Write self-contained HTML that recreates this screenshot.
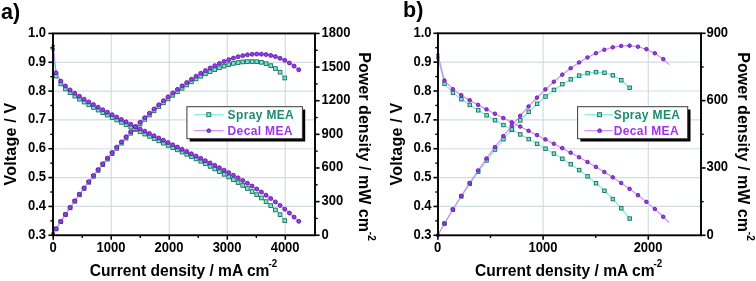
<!DOCTYPE html>
<html><head><meta charset="utf-8"><style>
html,body{margin:0;padding:0;background:#fff;width:756px;height:281px;overflow:hidden}
svg{display:block;will-change:transform}
text{font-family:"Liberation Sans",sans-serif;font-weight:bold}
.tk{font-size:14px;fill:#000}
.lg{font-size:12px;letter-spacing:0.35px}
.ax{font-size:16px;fill:#000}
.pl{font-size:21.5px;fill:#000}
.sup{font-size:10px;fill:#000}
</style></head><body>
<svg width="756" height="281" viewBox="0 0 756 281">
<rect width="756" height="281" fill="#fff"/>
<line x1="53.00" y1="206.42" x2="315.00" y2="206.42" stroke="#d2dde3" stroke-width="1.2"/>
<line x1="53.00" y1="177.59" x2="315.00" y2="177.59" stroke="#d2dde3" stroke-width="1.2"/>
<line x1="53.00" y1="148.76" x2="315.00" y2="148.76" stroke="#d2dde3" stroke-width="1.2"/>
<line x1="53.00" y1="119.94" x2="315.00" y2="119.94" stroke="#d2dde3" stroke-width="1.2"/>
<line x1="53.00" y1="91.11" x2="315.00" y2="91.11" stroke="#d2dde3" stroke-width="1.2"/>
<line x1="53.00" y1="62.28" x2="315.00" y2="62.28" stroke="#d2dde3" stroke-width="1.2"/>
<line x1="111.23" y1="33.45" x2="111.23" y2="235.25" stroke="#d2dde3" stroke-width="1.2"/>
<line x1="169.26" y1="33.45" x2="169.26" y2="235.25" stroke="#d2dde3" stroke-width="1.2"/>
<line x1="227.29" y1="33.45" x2="227.29" y2="235.25" stroke="#d2dde3" stroke-width="1.2"/>
<line x1="285.32" y1="33.45" x2="285.32" y2="235.25" stroke="#d2dde3" stroke-width="1.2"/>
<polyline points="53.20,49.31 56.12,76.02 60.79,83.95 65.46,88.93 70.12,92.78 74.79,96.13 79.45,99.21 84.12,102.07 88.78,104.80 93.45,107.48 98.12,110.07 102.78,112.59 107.45,115.08 112.11,117.54 116.78,119.98 121.44,122.38 126.11,124.76 130.77,127.12 135.44,129.45 140.11,131.78 144.77,134.09 149.44,136.38 154.10,138.65 158.77,140.91 163.43,143.17 168.10,145.43 172.77,147.67 177.43,149.89 182.10,152.09 186.76,154.30 191.43,156.56 196.09,158.88 200.76,161.29 205.42,163.80 210.09,166.38 214.76,169.00 219.42,171.65 224.09,174.29 228.75,176.94 233.42,179.66 238.08,182.52 242.75,185.47 247.41,188.48 252.08,191.56 256.75,194.67 261.41,197.97 266.08,201.62 270.74,205.57 275.41,209.96 280.07,214.69 284.74,220.63" fill="none" stroke="#74eedb" stroke-width="1.1"/>
<polyline points="53.20,233.65 56.12,228.87 60.79,221.65 65.46,214.68 70.12,207.89 74.79,201.27 79.45,194.81 84.12,188.50 88.78,182.33 93.45,176.32 98.12,170.44 102.78,164.71 107.45,159.12 112.11,153.67 116.78,148.37 121.44,143.20 126.11,138.17 130.77,133.28 135.44,128.52 140.11,123.90 144.77,119.41 149.44,115.05 154.10,110.83 158.77,106.74 163.43,102.78 168.10,98.97 172.77,95.29 177.43,91.71 182.10,88.27 186.76,84.97 191.43,81.85 196.09,78.93 200.76,76.25 205.42,73.81 210.09,71.60 214.76,69.60 219.42,67.79 224.09,66.13 228.75,64.65 233.42,63.42 238.08,62.53 242.75,61.93 247.41,61.59 252.08,61.53 256.75,61.70 261.41,62.33 266.08,63.65 270.74,65.64 275.41,68.52 280.07,72.18 284.74,78.01" fill="none" stroke="#74eedb" stroke-width="1.1"/>
<rect x="52.00" y="48.11" width="2.4" height="2.4" fill="#66f0d0" stroke="#26685c" stroke-width="0.9"/>
<rect x="54.27" y="74.17" width="3.7" height="3.7" fill="#66f0d0" stroke="#26685c" stroke-width="0.9"/>
<rect x="58.94" y="82.10" width="3.7" height="3.7" fill="#66f0d0" stroke="#26685c" stroke-width="0.9"/>
<rect x="63.61" y="87.08" width="3.7" height="3.7" fill="#66f0d0" stroke="#26685c" stroke-width="0.9"/>
<rect x="68.27" y="90.93" width="3.7" height="3.7" fill="#66f0d0" stroke="#26685c" stroke-width="0.9"/>
<rect x="72.94" y="94.28" width="3.7" height="3.7" fill="#66f0d0" stroke="#26685c" stroke-width="0.9"/>
<rect x="77.60" y="97.36" width="3.7" height="3.7" fill="#66f0d0" stroke="#26685c" stroke-width="0.9"/>
<rect x="82.27" y="100.22" width="3.7" height="3.7" fill="#66f0d0" stroke="#26685c" stroke-width="0.9"/>
<rect x="86.93" y="102.95" width="3.7" height="3.7" fill="#66f0d0" stroke="#26685c" stroke-width="0.9"/>
<rect x="91.60" y="105.63" width="3.7" height="3.7" fill="#66f0d0" stroke="#26685c" stroke-width="0.9"/>
<rect x="96.27" y="108.22" width="3.7" height="3.7" fill="#66f0d0" stroke="#26685c" stroke-width="0.9"/>
<rect x="100.93" y="110.74" width="3.7" height="3.7" fill="#66f0d0" stroke="#26685c" stroke-width="0.9"/>
<rect x="105.60" y="113.23" width="3.7" height="3.7" fill="#66f0d0" stroke="#26685c" stroke-width="0.9"/>
<rect x="110.26" y="115.69" width="3.7" height="3.7" fill="#66f0d0" stroke="#26685c" stroke-width="0.9"/>
<rect x="114.93" y="118.13" width="3.7" height="3.7" fill="#66f0d0" stroke="#26685c" stroke-width="0.9"/>
<rect x="119.59" y="120.53" width="3.7" height="3.7" fill="#66f0d0" stroke="#26685c" stroke-width="0.9"/>
<rect x="124.26" y="122.91" width="3.7" height="3.7" fill="#66f0d0" stroke="#26685c" stroke-width="0.9"/>
<rect x="128.92" y="125.27" width="3.7" height="3.7" fill="#66f0d0" stroke="#26685c" stroke-width="0.9"/>
<rect x="133.59" y="127.60" width="3.7" height="3.7" fill="#66f0d0" stroke="#26685c" stroke-width="0.9"/>
<rect x="138.26" y="129.93" width="3.7" height="3.7" fill="#66f0d0" stroke="#26685c" stroke-width="0.9"/>
<rect x="142.92" y="132.24" width="3.7" height="3.7" fill="#66f0d0" stroke="#26685c" stroke-width="0.9"/>
<rect x="147.59" y="134.53" width="3.7" height="3.7" fill="#66f0d0" stroke="#26685c" stroke-width="0.9"/>
<rect x="152.25" y="136.80" width="3.7" height="3.7" fill="#66f0d0" stroke="#26685c" stroke-width="0.9"/>
<rect x="156.92" y="139.06" width="3.7" height="3.7" fill="#66f0d0" stroke="#26685c" stroke-width="0.9"/>
<rect x="161.58" y="141.32" width="3.7" height="3.7" fill="#66f0d0" stroke="#26685c" stroke-width="0.9"/>
<rect x="166.25" y="143.58" width="3.7" height="3.7" fill="#66f0d0" stroke="#26685c" stroke-width="0.9"/>
<rect x="170.92" y="145.82" width="3.7" height="3.7" fill="#66f0d0" stroke="#26685c" stroke-width="0.9"/>
<rect x="175.58" y="148.04" width="3.7" height="3.7" fill="#66f0d0" stroke="#26685c" stroke-width="0.9"/>
<rect x="180.25" y="150.24" width="3.7" height="3.7" fill="#66f0d0" stroke="#26685c" stroke-width="0.9"/>
<rect x="184.91" y="152.45" width="3.7" height="3.7" fill="#66f0d0" stroke="#26685c" stroke-width="0.9"/>
<rect x="189.58" y="154.71" width="3.7" height="3.7" fill="#66f0d0" stroke="#26685c" stroke-width="0.9"/>
<rect x="194.24" y="157.03" width="3.7" height="3.7" fill="#66f0d0" stroke="#26685c" stroke-width="0.9"/>
<rect x="198.91" y="159.44" width="3.7" height="3.7" fill="#66f0d0" stroke="#26685c" stroke-width="0.9"/>
<rect x="203.57" y="161.95" width="3.7" height="3.7" fill="#66f0d0" stroke="#26685c" stroke-width="0.9"/>
<rect x="208.24" y="164.53" width="3.7" height="3.7" fill="#66f0d0" stroke="#26685c" stroke-width="0.9"/>
<rect x="212.91" y="167.15" width="3.7" height="3.7" fill="#66f0d0" stroke="#26685c" stroke-width="0.9"/>
<rect x="217.57" y="169.80" width="3.7" height="3.7" fill="#66f0d0" stroke="#26685c" stroke-width="0.9"/>
<rect x="222.24" y="172.44" width="3.7" height="3.7" fill="#66f0d0" stroke="#26685c" stroke-width="0.9"/>
<rect x="226.90" y="175.09" width="3.7" height="3.7" fill="#66f0d0" stroke="#26685c" stroke-width="0.9"/>
<rect x="231.57" y="177.81" width="3.7" height="3.7" fill="#66f0d0" stroke="#26685c" stroke-width="0.9"/>
<rect x="236.23" y="180.67" width="3.7" height="3.7" fill="#66f0d0" stroke="#26685c" stroke-width="0.9"/>
<rect x="240.90" y="183.62" width="3.7" height="3.7" fill="#66f0d0" stroke="#26685c" stroke-width="0.9"/>
<rect x="245.56" y="186.63" width="3.7" height="3.7" fill="#66f0d0" stroke="#26685c" stroke-width="0.9"/>
<rect x="250.23" y="189.71" width="3.7" height="3.7" fill="#66f0d0" stroke="#26685c" stroke-width="0.9"/>
<rect x="254.90" y="192.82" width="3.7" height="3.7" fill="#66f0d0" stroke="#26685c" stroke-width="0.9"/>
<rect x="259.56" y="196.12" width="3.7" height="3.7" fill="#66f0d0" stroke="#26685c" stroke-width="0.9"/>
<rect x="264.23" y="199.77" width="3.7" height="3.7" fill="#66f0d0" stroke="#26685c" stroke-width="0.9"/>
<rect x="268.89" y="203.72" width="3.7" height="3.7" fill="#66f0d0" stroke="#26685c" stroke-width="0.9"/>
<rect x="273.56" y="208.11" width="3.7" height="3.7" fill="#66f0d0" stroke="#26685c" stroke-width="0.9"/>
<rect x="278.22" y="212.84" width="3.7" height="3.7" fill="#66f0d0" stroke="#26685c" stroke-width="0.9"/>
<rect x="282.89" y="218.78" width="3.7" height="3.7" fill="#66f0d0" stroke="#26685c" stroke-width="0.9"/>
<rect x="52.00" y="232.45" width="2.4" height="2.4" fill="#66f0d0" stroke="#26685c" stroke-width="0.9"/>
<rect x="54.27" y="227.02" width="3.7" height="3.7" fill="#66f0d0" stroke="#26685c" stroke-width="0.9"/>
<rect x="58.94" y="219.80" width="3.7" height="3.7" fill="#66f0d0" stroke="#26685c" stroke-width="0.9"/>
<rect x="63.61" y="212.83" width="3.7" height="3.7" fill="#66f0d0" stroke="#26685c" stroke-width="0.9"/>
<rect x="68.27" y="206.04" width="3.7" height="3.7" fill="#66f0d0" stroke="#26685c" stroke-width="0.9"/>
<rect x="72.94" y="199.42" width="3.7" height="3.7" fill="#66f0d0" stroke="#26685c" stroke-width="0.9"/>
<rect x="77.60" y="192.96" width="3.7" height="3.7" fill="#66f0d0" stroke="#26685c" stroke-width="0.9"/>
<rect x="82.27" y="186.65" width="3.7" height="3.7" fill="#66f0d0" stroke="#26685c" stroke-width="0.9"/>
<rect x="86.93" y="180.48" width="3.7" height="3.7" fill="#66f0d0" stroke="#26685c" stroke-width="0.9"/>
<rect x="91.60" y="174.47" width="3.7" height="3.7" fill="#66f0d0" stroke="#26685c" stroke-width="0.9"/>
<rect x="96.27" y="168.59" width="3.7" height="3.7" fill="#66f0d0" stroke="#26685c" stroke-width="0.9"/>
<rect x="100.93" y="162.86" width="3.7" height="3.7" fill="#66f0d0" stroke="#26685c" stroke-width="0.9"/>
<rect x="105.60" y="157.27" width="3.7" height="3.7" fill="#66f0d0" stroke="#26685c" stroke-width="0.9"/>
<rect x="110.26" y="151.82" width="3.7" height="3.7" fill="#66f0d0" stroke="#26685c" stroke-width="0.9"/>
<rect x="114.93" y="146.52" width="3.7" height="3.7" fill="#66f0d0" stroke="#26685c" stroke-width="0.9"/>
<rect x="119.59" y="141.35" width="3.7" height="3.7" fill="#66f0d0" stroke="#26685c" stroke-width="0.9"/>
<rect x="124.26" y="136.32" width="3.7" height="3.7" fill="#66f0d0" stroke="#26685c" stroke-width="0.9"/>
<rect x="128.92" y="131.43" width="3.7" height="3.7" fill="#66f0d0" stroke="#26685c" stroke-width="0.9"/>
<rect x="133.59" y="126.67" width="3.7" height="3.7" fill="#66f0d0" stroke="#26685c" stroke-width="0.9"/>
<rect x="138.26" y="122.05" width="3.7" height="3.7" fill="#66f0d0" stroke="#26685c" stroke-width="0.9"/>
<rect x="142.92" y="117.56" width="3.7" height="3.7" fill="#66f0d0" stroke="#26685c" stroke-width="0.9"/>
<rect x="147.59" y="113.20" width="3.7" height="3.7" fill="#66f0d0" stroke="#26685c" stroke-width="0.9"/>
<rect x="152.25" y="108.98" width="3.7" height="3.7" fill="#66f0d0" stroke="#26685c" stroke-width="0.9"/>
<rect x="156.92" y="104.89" width="3.7" height="3.7" fill="#66f0d0" stroke="#26685c" stroke-width="0.9"/>
<rect x="161.58" y="100.93" width="3.7" height="3.7" fill="#66f0d0" stroke="#26685c" stroke-width="0.9"/>
<rect x="166.25" y="97.12" width="3.7" height="3.7" fill="#66f0d0" stroke="#26685c" stroke-width="0.9"/>
<rect x="170.92" y="93.44" width="3.7" height="3.7" fill="#66f0d0" stroke="#26685c" stroke-width="0.9"/>
<rect x="175.58" y="89.86" width="3.7" height="3.7" fill="#66f0d0" stroke="#26685c" stroke-width="0.9"/>
<rect x="180.25" y="86.42" width="3.7" height="3.7" fill="#66f0d0" stroke="#26685c" stroke-width="0.9"/>
<rect x="184.91" y="83.12" width="3.7" height="3.7" fill="#66f0d0" stroke="#26685c" stroke-width="0.9"/>
<rect x="189.58" y="80.00" width="3.7" height="3.7" fill="#66f0d0" stroke="#26685c" stroke-width="0.9"/>
<rect x="194.24" y="77.08" width="3.7" height="3.7" fill="#66f0d0" stroke="#26685c" stroke-width="0.9"/>
<rect x="198.91" y="74.40" width="3.7" height="3.7" fill="#66f0d0" stroke="#26685c" stroke-width="0.9"/>
<rect x="203.57" y="71.96" width="3.7" height="3.7" fill="#66f0d0" stroke="#26685c" stroke-width="0.9"/>
<rect x="208.24" y="69.75" width="3.7" height="3.7" fill="#66f0d0" stroke="#26685c" stroke-width="0.9"/>
<rect x="212.91" y="67.75" width="3.7" height="3.7" fill="#66f0d0" stroke="#26685c" stroke-width="0.9"/>
<rect x="217.57" y="65.94" width="3.7" height="3.7" fill="#66f0d0" stroke="#26685c" stroke-width="0.9"/>
<rect x="222.24" y="64.28" width="3.7" height="3.7" fill="#66f0d0" stroke="#26685c" stroke-width="0.9"/>
<rect x="226.90" y="62.80" width="3.7" height="3.7" fill="#66f0d0" stroke="#26685c" stroke-width="0.9"/>
<rect x="231.57" y="61.57" width="3.7" height="3.7" fill="#66f0d0" stroke="#26685c" stroke-width="0.9"/>
<rect x="236.23" y="60.68" width="3.7" height="3.7" fill="#66f0d0" stroke="#26685c" stroke-width="0.9"/>
<rect x="240.90" y="60.08" width="3.7" height="3.7" fill="#66f0d0" stroke="#26685c" stroke-width="0.9"/>
<rect x="245.56" y="59.74" width="3.7" height="3.7" fill="#66f0d0" stroke="#26685c" stroke-width="0.9"/>
<rect x="250.23" y="59.68" width="3.7" height="3.7" fill="#66f0d0" stroke="#26685c" stroke-width="0.9"/>
<rect x="254.90" y="59.85" width="3.7" height="3.7" fill="#66f0d0" stroke="#26685c" stroke-width="0.9"/>
<rect x="259.56" y="60.48" width="3.7" height="3.7" fill="#66f0d0" stroke="#26685c" stroke-width="0.9"/>
<rect x="264.23" y="61.80" width="3.7" height="3.7" fill="#66f0d0" stroke="#26685c" stroke-width="0.9"/>
<rect x="268.89" y="63.79" width="3.7" height="3.7" fill="#66f0d0" stroke="#26685c" stroke-width="0.9"/>
<rect x="273.56" y="66.67" width="3.7" height="3.7" fill="#66f0d0" stroke="#26685c" stroke-width="0.9"/>
<rect x="278.22" y="70.33" width="3.7" height="3.7" fill="#66f0d0" stroke="#26685c" stroke-width="0.9"/>
<rect x="282.89" y="76.16" width="3.7" height="3.7" fill="#66f0d0" stroke="#26685c" stroke-width="0.9"/>
<polyline points="53.20,45.85 56.12,72.80 60.79,81.11 65.46,86.04 70.12,89.90 74.79,93.25 79.45,96.31 84.12,99.18 88.78,101.92 93.45,104.58 98.12,107.16 102.78,109.70 107.45,112.20 112.11,114.66 116.78,117.09 121.44,119.49 126.11,121.87 130.77,124.23 135.44,126.57 140.11,128.90 144.77,131.20 149.44,133.50 154.10,135.77 158.77,138.04 163.43,140.30 168.10,142.55 172.77,144.79 177.43,147.03 182.10,149.28 186.76,151.52 191.43,153.78 196.09,156.05 200.76,158.33 205.42,160.63 210.09,162.96 214.76,165.32 219.42,167.72 224.09,170.16 228.75,172.64 233.42,175.19 238.08,177.79 242.75,180.47 247.41,183.23 252.08,186.07 256.75,189.01 261.41,192.05 266.08,195.21 270.74,198.49 275.41,201.90 280.07,205.46 284.74,209.17 289.41,213.05 294.07,217.11 298.74,221.36" fill="none" stroke="#d284ef" stroke-width="1.1"/>
<polyline points="53.20,233.65 56.12,228.81 60.79,221.51 65.46,214.45 70.12,207.57 74.79,200.86 79.45,194.30 84.12,187.90 88.78,181.65 93.45,175.54 98.12,169.58 102.78,163.76 107.45,158.08 112.11,152.54 116.78,147.15 121.44,141.89 126.11,136.77 130.77,131.79 135.44,126.94 140.11,122.23 144.77,117.65 149.44,113.21 154.10,108.90 158.77,104.72 163.43,100.68 168.10,96.77 172.77,92.99 177.43,89.36 182.10,85.86 186.76,82.51 191.43,79.30 196.09,76.24 200.76,73.34 205.42,70.61 210.09,68.04 214.76,65.65 219.42,63.44 224.09,61.44 228.75,59.64 233.42,58.06 238.08,56.72 242.75,55.63 247.41,54.81 252.08,54.27 256.75,54.04 261.41,54.13 266.08,54.57 270.74,55.39 275.41,56.61 280.07,58.26 284.74,60.37 289.41,62.97 294.07,66.10 298.74,69.79" fill="none" stroke="#d284ef" stroke-width="1.1"/>
<circle cx="53.20" cy="45.85" r="1.3" fill="#9a3af4" stroke="#521590" stroke-width="0.8"/>
<circle cx="56.12" cy="72.80" r="2.0" fill="#9a3af4" stroke="#521590" stroke-width="0.8"/>
<circle cx="60.79" cy="81.11" r="2.0" fill="#9a3af4" stroke="#521590" stroke-width="0.8"/>
<circle cx="65.46" cy="86.04" r="2.0" fill="#9a3af4" stroke="#521590" stroke-width="0.8"/>
<circle cx="70.12" cy="89.90" r="2.0" fill="#9a3af4" stroke="#521590" stroke-width="0.8"/>
<circle cx="74.79" cy="93.25" r="2.0" fill="#9a3af4" stroke="#521590" stroke-width="0.8"/>
<circle cx="79.45" cy="96.31" r="2.0" fill="#9a3af4" stroke="#521590" stroke-width="0.8"/>
<circle cx="84.12" cy="99.18" r="2.0" fill="#9a3af4" stroke="#521590" stroke-width="0.8"/>
<circle cx="88.78" cy="101.92" r="2.0" fill="#9a3af4" stroke="#521590" stroke-width="0.8"/>
<circle cx="93.45" cy="104.58" r="2.0" fill="#9a3af4" stroke="#521590" stroke-width="0.8"/>
<circle cx="98.12" cy="107.16" r="2.0" fill="#9a3af4" stroke="#521590" stroke-width="0.8"/>
<circle cx="102.78" cy="109.70" r="2.0" fill="#9a3af4" stroke="#521590" stroke-width="0.8"/>
<circle cx="107.45" cy="112.20" r="2.0" fill="#9a3af4" stroke="#521590" stroke-width="0.8"/>
<circle cx="112.11" cy="114.66" r="2.0" fill="#9a3af4" stroke="#521590" stroke-width="0.8"/>
<circle cx="116.78" cy="117.09" r="2.0" fill="#9a3af4" stroke="#521590" stroke-width="0.8"/>
<circle cx="121.44" cy="119.49" r="2.0" fill="#9a3af4" stroke="#521590" stroke-width="0.8"/>
<circle cx="126.11" cy="121.87" r="2.0" fill="#9a3af4" stroke="#521590" stroke-width="0.8"/>
<circle cx="130.77" cy="124.23" r="2.0" fill="#9a3af4" stroke="#521590" stroke-width="0.8"/>
<circle cx="135.44" cy="126.57" r="2.0" fill="#9a3af4" stroke="#521590" stroke-width="0.8"/>
<circle cx="140.11" cy="128.90" r="2.0" fill="#9a3af4" stroke="#521590" stroke-width="0.8"/>
<circle cx="144.77" cy="131.20" r="2.0" fill="#9a3af4" stroke="#521590" stroke-width="0.8"/>
<circle cx="149.44" cy="133.50" r="2.0" fill="#9a3af4" stroke="#521590" stroke-width="0.8"/>
<circle cx="154.10" cy="135.77" r="2.0" fill="#9a3af4" stroke="#521590" stroke-width="0.8"/>
<circle cx="158.77" cy="138.04" r="2.0" fill="#9a3af4" stroke="#521590" stroke-width="0.8"/>
<circle cx="163.43" cy="140.30" r="2.0" fill="#9a3af4" stroke="#521590" stroke-width="0.8"/>
<circle cx="168.10" cy="142.55" r="2.0" fill="#9a3af4" stroke="#521590" stroke-width="0.8"/>
<circle cx="172.77" cy="144.79" r="2.0" fill="#9a3af4" stroke="#521590" stroke-width="0.8"/>
<circle cx="177.43" cy="147.03" r="2.0" fill="#9a3af4" stroke="#521590" stroke-width="0.8"/>
<circle cx="182.10" cy="149.28" r="2.0" fill="#9a3af4" stroke="#521590" stroke-width="0.8"/>
<circle cx="186.76" cy="151.52" r="2.0" fill="#9a3af4" stroke="#521590" stroke-width="0.8"/>
<circle cx="191.43" cy="153.78" r="2.0" fill="#9a3af4" stroke="#521590" stroke-width="0.8"/>
<circle cx="196.09" cy="156.05" r="2.0" fill="#9a3af4" stroke="#521590" stroke-width="0.8"/>
<circle cx="200.76" cy="158.33" r="2.0" fill="#9a3af4" stroke="#521590" stroke-width="0.8"/>
<circle cx="205.42" cy="160.63" r="2.0" fill="#9a3af4" stroke="#521590" stroke-width="0.8"/>
<circle cx="210.09" cy="162.96" r="2.0" fill="#9a3af4" stroke="#521590" stroke-width="0.8"/>
<circle cx="214.76" cy="165.32" r="2.0" fill="#9a3af4" stroke="#521590" stroke-width="0.8"/>
<circle cx="219.42" cy="167.72" r="2.0" fill="#9a3af4" stroke="#521590" stroke-width="0.8"/>
<circle cx="224.09" cy="170.16" r="2.0" fill="#9a3af4" stroke="#521590" stroke-width="0.8"/>
<circle cx="228.75" cy="172.64" r="2.0" fill="#9a3af4" stroke="#521590" stroke-width="0.8"/>
<circle cx="233.42" cy="175.19" r="2.0" fill="#9a3af4" stroke="#521590" stroke-width="0.8"/>
<circle cx="238.08" cy="177.79" r="2.0" fill="#9a3af4" stroke="#521590" stroke-width="0.8"/>
<circle cx="242.75" cy="180.47" r="2.0" fill="#9a3af4" stroke="#521590" stroke-width="0.8"/>
<circle cx="247.41" cy="183.23" r="2.0" fill="#9a3af4" stroke="#521590" stroke-width="0.8"/>
<circle cx="252.08" cy="186.07" r="2.0" fill="#9a3af4" stroke="#521590" stroke-width="0.8"/>
<circle cx="256.75" cy="189.01" r="2.0" fill="#9a3af4" stroke="#521590" stroke-width="0.8"/>
<circle cx="261.41" cy="192.05" r="2.0" fill="#9a3af4" stroke="#521590" stroke-width="0.8"/>
<circle cx="266.08" cy="195.21" r="2.0" fill="#9a3af4" stroke="#521590" stroke-width="0.8"/>
<circle cx="270.74" cy="198.49" r="2.0" fill="#9a3af4" stroke="#521590" stroke-width="0.8"/>
<circle cx="275.41" cy="201.90" r="2.0" fill="#9a3af4" stroke="#521590" stroke-width="0.8"/>
<circle cx="280.07" cy="205.46" r="2.0" fill="#9a3af4" stroke="#521590" stroke-width="0.8"/>
<circle cx="284.74" cy="209.17" r="2.0" fill="#9a3af4" stroke="#521590" stroke-width="0.8"/>
<circle cx="289.41" cy="213.05" r="2.0" fill="#9a3af4" stroke="#521590" stroke-width="0.8"/>
<circle cx="294.07" cy="217.11" r="2.0" fill="#9a3af4" stroke="#521590" stroke-width="0.8"/>
<circle cx="298.74" cy="221.36" r="2.0" fill="#9a3af4" stroke="#521590" stroke-width="0.8"/>
<circle cx="53.20" cy="233.65" r="1.3" fill="#9a3af4" stroke="#521590" stroke-width="0.8"/>
<circle cx="56.12" cy="228.81" r="2.0" fill="#9a3af4" stroke="#521590" stroke-width="0.8"/>
<circle cx="60.79" cy="221.51" r="2.0" fill="#9a3af4" stroke="#521590" stroke-width="0.8"/>
<circle cx="65.46" cy="214.45" r="2.0" fill="#9a3af4" stroke="#521590" stroke-width="0.8"/>
<circle cx="70.12" cy="207.57" r="2.0" fill="#9a3af4" stroke="#521590" stroke-width="0.8"/>
<circle cx="74.79" cy="200.86" r="2.0" fill="#9a3af4" stroke="#521590" stroke-width="0.8"/>
<circle cx="79.45" cy="194.30" r="2.0" fill="#9a3af4" stroke="#521590" stroke-width="0.8"/>
<circle cx="84.12" cy="187.90" r="2.0" fill="#9a3af4" stroke="#521590" stroke-width="0.8"/>
<circle cx="88.78" cy="181.65" r="2.0" fill="#9a3af4" stroke="#521590" stroke-width="0.8"/>
<circle cx="93.45" cy="175.54" r="2.0" fill="#9a3af4" stroke="#521590" stroke-width="0.8"/>
<circle cx="98.12" cy="169.58" r="2.0" fill="#9a3af4" stroke="#521590" stroke-width="0.8"/>
<circle cx="102.78" cy="163.76" r="2.0" fill="#9a3af4" stroke="#521590" stroke-width="0.8"/>
<circle cx="107.45" cy="158.08" r="2.0" fill="#9a3af4" stroke="#521590" stroke-width="0.8"/>
<circle cx="112.11" cy="152.54" r="2.0" fill="#9a3af4" stroke="#521590" stroke-width="0.8"/>
<circle cx="116.78" cy="147.15" r="2.0" fill="#9a3af4" stroke="#521590" stroke-width="0.8"/>
<circle cx="121.44" cy="141.89" r="2.0" fill="#9a3af4" stroke="#521590" stroke-width="0.8"/>
<circle cx="126.11" cy="136.77" r="2.0" fill="#9a3af4" stroke="#521590" stroke-width="0.8"/>
<circle cx="130.77" cy="131.79" r="2.0" fill="#9a3af4" stroke="#521590" stroke-width="0.8"/>
<circle cx="135.44" cy="126.94" r="2.0" fill="#9a3af4" stroke="#521590" stroke-width="0.8"/>
<circle cx="140.11" cy="122.23" r="2.0" fill="#9a3af4" stroke="#521590" stroke-width="0.8"/>
<circle cx="144.77" cy="117.65" r="2.0" fill="#9a3af4" stroke="#521590" stroke-width="0.8"/>
<circle cx="149.44" cy="113.21" r="2.0" fill="#9a3af4" stroke="#521590" stroke-width="0.8"/>
<circle cx="154.10" cy="108.90" r="2.0" fill="#9a3af4" stroke="#521590" stroke-width="0.8"/>
<circle cx="158.77" cy="104.72" r="2.0" fill="#9a3af4" stroke="#521590" stroke-width="0.8"/>
<circle cx="163.43" cy="100.68" r="2.0" fill="#9a3af4" stroke="#521590" stroke-width="0.8"/>
<circle cx="168.10" cy="96.77" r="2.0" fill="#9a3af4" stroke="#521590" stroke-width="0.8"/>
<circle cx="172.77" cy="92.99" r="2.0" fill="#9a3af4" stroke="#521590" stroke-width="0.8"/>
<circle cx="177.43" cy="89.36" r="2.0" fill="#9a3af4" stroke="#521590" stroke-width="0.8"/>
<circle cx="182.10" cy="85.86" r="2.0" fill="#9a3af4" stroke="#521590" stroke-width="0.8"/>
<circle cx="186.76" cy="82.51" r="2.0" fill="#9a3af4" stroke="#521590" stroke-width="0.8"/>
<circle cx="191.43" cy="79.30" r="2.0" fill="#9a3af4" stroke="#521590" stroke-width="0.8"/>
<circle cx="196.09" cy="76.24" r="2.0" fill="#9a3af4" stroke="#521590" stroke-width="0.8"/>
<circle cx="200.76" cy="73.34" r="2.0" fill="#9a3af4" stroke="#521590" stroke-width="0.8"/>
<circle cx="205.42" cy="70.61" r="2.0" fill="#9a3af4" stroke="#521590" stroke-width="0.8"/>
<circle cx="210.09" cy="68.04" r="2.0" fill="#9a3af4" stroke="#521590" stroke-width="0.8"/>
<circle cx="214.76" cy="65.65" r="2.0" fill="#9a3af4" stroke="#521590" stroke-width="0.8"/>
<circle cx="219.42" cy="63.44" r="2.0" fill="#9a3af4" stroke="#521590" stroke-width="0.8"/>
<circle cx="224.09" cy="61.44" r="2.0" fill="#9a3af4" stroke="#521590" stroke-width="0.8"/>
<circle cx="228.75" cy="59.64" r="2.0" fill="#9a3af4" stroke="#521590" stroke-width="0.8"/>
<circle cx="233.42" cy="58.06" r="2.0" fill="#9a3af4" stroke="#521590" stroke-width="0.8"/>
<circle cx="238.08" cy="56.72" r="2.0" fill="#9a3af4" stroke="#521590" stroke-width="0.8"/>
<circle cx="242.75" cy="55.63" r="2.0" fill="#9a3af4" stroke="#521590" stroke-width="0.8"/>
<circle cx="247.41" cy="54.81" r="2.0" fill="#9a3af4" stroke="#521590" stroke-width="0.8"/>
<circle cx="252.08" cy="54.27" r="2.0" fill="#9a3af4" stroke="#521590" stroke-width="0.8"/>
<circle cx="256.75" cy="54.04" r="2.0" fill="#9a3af4" stroke="#521590" stroke-width="0.8"/>
<circle cx="261.41" cy="54.13" r="2.0" fill="#9a3af4" stroke="#521590" stroke-width="0.8"/>
<circle cx="266.08" cy="54.57" r="2.0" fill="#9a3af4" stroke="#521590" stroke-width="0.8"/>
<circle cx="270.74" cy="55.39" r="2.0" fill="#9a3af4" stroke="#521590" stroke-width="0.8"/>
<circle cx="275.41" cy="56.61" r="2.0" fill="#9a3af4" stroke="#521590" stroke-width="0.8"/>
<circle cx="280.07" cy="58.26" r="2.0" fill="#9a3af4" stroke="#521590" stroke-width="0.8"/>
<circle cx="284.74" cy="60.37" r="2.0" fill="#9a3af4" stroke="#521590" stroke-width="0.8"/>
<circle cx="289.41" cy="62.97" r="2.0" fill="#9a3af4" stroke="#521590" stroke-width="0.8"/>
<circle cx="294.07" cy="66.10" r="2.0" fill="#9a3af4" stroke="#521590" stroke-width="0.8"/>
<circle cx="298.74" cy="69.79" r="2.0" fill="#9a3af4" stroke="#521590" stroke-width="0.8"/>
<rect x="53.00" y="33.45" width="262.00" height="201.80" fill="none" stroke="#000" stroke-width="1.9"/>
<line x1="48.40" y1="235.25" x2="53.00" y2="235.25" stroke="#000" stroke-width="1.6"/>
<line x1="50.30" y1="220.84" x2="53.00" y2="220.84" stroke="#000" stroke-width="1.4"/>
<text transform="translate(46.10,238.75) scale(0.93,1)" text-anchor="end" class="tk">0.3</text>
<line x1="48.40" y1="206.42" x2="53.00" y2="206.42" stroke="#000" stroke-width="1.6"/>
<line x1="50.30" y1="192.01" x2="53.00" y2="192.01" stroke="#000" stroke-width="1.4"/>
<text transform="translate(46.10,209.92) scale(0.93,1)" text-anchor="end" class="tk">0.4</text>
<line x1="48.40" y1="177.59" x2="53.00" y2="177.59" stroke="#000" stroke-width="1.6"/>
<line x1="50.30" y1="163.18" x2="53.00" y2="163.18" stroke="#000" stroke-width="1.4"/>
<text transform="translate(46.10,181.09) scale(0.93,1)" text-anchor="end" class="tk">0.5</text>
<line x1="48.40" y1="148.76" x2="53.00" y2="148.76" stroke="#000" stroke-width="1.6"/>
<line x1="50.30" y1="134.35" x2="53.00" y2="134.35" stroke="#000" stroke-width="1.4"/>
<text transform="translate(46.10,152.26) scale(0.93,1)" text-anchor="end" class="tk">0.6</text>
<line x1="48.40" y1="119.94" x2="53.00" y2="119.94" stroke="#000" stroke-width="1.6"/>
<line x1="50.30" y1="105.52" x2="53.00" y2="105.52" stroke="#000" stroke-width="1.4"/>
<text transform="translate(46.10,123.44) scale(0.93,1)" text-anchor="end" class="tk">0.7</text>
<line x1="48.40" y1="91.11" x2="53.00" y2="91.11" stroke="#000" stroke-width="1.6"/>
<line x1="50.30" y1="76.69" x2="53.00" y2="76.69" stroke="#000" stroke-width="1.4"/>
<text transform="translate(46.10,94.61) scale(0.93,1)" text-anchor="end" class="tk">0.8</text>
<line x1="48.40" y1="62.28" x2="53.00" y2="62.28" stroke="#000" stroke-width="1.6"/>
<line x1="50.30" y1="47.86" x2="53.00" y2="47.86" stroke="#000" stroke-width="1.4"/>
<text transform="translate(46.10,65.78) scale(0.93,1)" text-anchor="end" class="tk">0.9</text>
<line x1="48.40" y1="33.45" x2="53.00" y2="33.45" stroke="#000" stroke-width="1.6"/>
<text transform="translate(46.10,36.95) scale(0.93,1)" text-anchor="end" class="tk">1.0</text>
<line x1="53.20" y1="235.25" x2="53.20" y2="239.75" stroke="#000" stroke-width="1.6"/>
<text transform="translate(53.00,251.85) scale(0.93,1)" text-anchor="middle" class="tk">0</text>
<line x1="111.23" y1="235.25" x2="111.23" y2="239.75" stroke="#000" stroke-width="1.6"/>
<text transform="translate(111.03,251.85) scale(0.93,1)" text-anchor="middle" class="tk">1000</text>
<line x1="169.26" y1="235.25" x2="169.26" y2="239.75" stroke="#000" stroke-width="1.6"/>
<text transform="translate(169.06,251.85) scale(0.93,1)" text-anchor="middle" class="tk">2000</text>
<line x1="227.29" y1="235.25" x2="227.29" y2="239.75" stroke="#000" stroke-width="1.6"/>
<text transform="translate(227.09,251.85) scale(0.93,1)" text-anchor="middle" class="tk">3000</text>
<line x1="285.32" y1="235.25" x2="285.32" y2="239.75" stroke="#000" stroke-width="1.6"/>
<text transform="translate(285.12,251.85) scale(0.93,1)" text-anchor="middle" class="tk">4000</text>
<line x1="82.22" y1="235.25" x2="82.22" y2="237.95" stroke="#000" stroke-width="1.4"/>
<line x1="140.25" y1="235.25" x2="140.25" y2="237.95" stroke="#000" stroke-width="1.4"/>
<line x1="198.27" y1="235.25" x2="198.27" y2="237.95" stroke="#000" stroke-width="1.4"/>
<line x1="256.31" y1="235.25" x2="256.31" y2="237.95" stroke="#000" stroke-width="1.4"/>
<line x1="315.00" y1="235.25" x2="319.60" y2="235.25" stroke="#000" stroke-width="1.6"/>
<text transform="translate(321.60,238.75) scale(0.93,1)" class="tk">0</text>
<line x1="315.00" y1="201.62" x2="319.60" y2="201.62" stroke="#000" stroke-width="1.6"/>
<text transform="translate(321.60,205.12) scale(0.93,1)" class="tk">300</text>
<line x1="315.00" y1="167.98" x2="319.60" y2="167.98" stroke="#000" stroke-width="1.6"/>
<text transform="translate(321.60,171.48) scale(0.93,1)" class="tk">600</text>
<line x1="315.00" y1="134.35" x2="319.60" y2="134.35" stroke="#000" stroke-width="1.6"/>
<text transform="translate(321.60,137.85) scale(0.93,1)" class="tk">900</text>
<line x1="315.00" y1="100.72" x2="319.60" y2="100.72" stroke="#000" stroke-width="1.6"/>
<text transform="translate(321.60,104.22) scale(0.93,1)" class="tk">1200</text>
<line x1="315.00" y1="67.08" x2="319.60" y2="67.08" stroke="#000" stroke-width="1.6"/>
<text transform="translate(321.60,70.58) scale(0.93,1)" class="tk">1500</text>
<line x1="315.00" y1="33.45" x2="319.60" y2="33.45" stroke="#000" stroke-width="1.6"/>
<text transform="translate(321.60,36.95) scale(0.93,1)" class="tk">1800</text>
<line x1="315.00" y1="218.43" x2="317.70" y2="218.43" stroke="#000" stroke-width="1.4"/>
<line x1="315.00" y1="184.80" x2="317.70" y2="184.80" stroke="#000" stroke-width="1.4"/>
<line x1="315.00" y1="151.17" x2="317.70" y2="151.17" stroke="#000" stroke-width="1.4"/>
<line x1="315.00" y1="117.53" x2="317.70" y2="117.53" stroke="#000" stroke-width="1.4"/>
<line x1="315.00" y1="83.90" x2="317.70" y2="83.90" stroke="#000" stroke-width="1.4"/>
<line x1="315.00" y1="50.27" x2="317.70" y2="50.27" stroke="#000" stroke-width="1.4"/>
<rect x="189.70" y="109.50" width="115.50" height="32.00" fill="#000"/>
<rect x="186.90" y="106.70" width="115.50" height="32.00" fill="#fff" stroke="#3a3a3a" stroke-width="1"/>
<line x1="194.10" y1="114.70" x2="223.50" y2="114.70" stroke="#74eedb" stroke-width="1.1"/>
<rect x="206.80" y="112.70" width="4" height="4" fill="#66f0d0" stroke="#26685c" stroke-width="0.9"/>
<line x1="194.10" y1="130.70" x2="223.50" y2="130.70" stroke="#d284ef" stroke-width="1.1"/>
<circle cx="208.80" cy="130.70" r="1.9" fill="#9a3af4" stroke="#521590" stroke-width="0.8"/>
<text x="227.60" y="118.90" class="lg" fill="#1b8c6d">Spray MEA</text>
<text x="227.60" y="134.90" class="lg" fill="#a133ee">Decal MEA</text>
<line x1="438.00" y1="206.44" x2="701.00" y2="206.44" stroke="#d2dde3" stroke-width="1.2"/>
<line x1="438.00" y1="177.59" x2="701.00" y2="177.59" stroke="#d2dde3" stroke-width="1.2"/>
<line x1="438.00" y1="148.73" x2="701.00" y2="148.73" stroke="#d2dde3" stroke-width="1.2"/>
<line x1="438.00" y1="119.87" x2="701.00" y2="119.87" stroke="#d2dde3" stroke-width="1.2"/>
<line x1="438.00" y1="91.01" x2="701.00" y2="91.01" stroke="#d2dde3" stroke-width="1.2"/>
<line x1="438.00" y1="62.16" x2="701.00" y2="62.16" stroke="#d2dde3" stroke-width="1.2"/>
<line x1="543.10" y1="33.30" x2="543.10" y2="235.30" stroke="#d2dde3" stroke-width="1.2"/>
<line x1="648.30" y1="33.30" x2="648.30" y2="235.30" stroke="#d2dde3" stroke-width="1.2"/>
<polyline points="437.90,57.54 444.53,83.73 452.94,92.68 461.36,99.23 469.78,104.95 478.19,110.27 486.61,115.34 495.02,120.24 503.44,125.03 511.86,129.75 520.27,134.43 528.69,139.10 537.10,143.82 545.52,148.64 553.94,153.60 562.35,158.78 570.77,164.25 579.18,170.09 587.60,176.38 596.02,183.24 604.43,190.76 612.85,199.06 621.26,208.28 629.68,218.54" fill="none" stroke="#74eedb" stroke-width="1.1"/>
<polyline points="437.90,235.30 444.53,223.55 452.94,209.63 461.36,196.41 469.78,183.82 478.19,171.82 486.61,160.40 495.02,149.55 503.44,139.25 511.86,129.52 520.27,120.35 528.69,111.76 537.10,103.80 545.52,96.50 553.94,89.93 562.35,84.19 570.77,79.38 579.18,75.64 587.60,73.15 596.02,72.10 604.43,72.74 612.85,75.34 621.26,80.23 629.68,87.76" fill="none" stroke="#74eedb" stroke-width="1.1"/>
<rect x="436.70" y="56.34" width="2.4" height="2.4" fill="#66f0d0" stroke="#26685c" stroke-width="0.9"/>
<rect x="442.78" y="81.98" width="3.5" height="3.5" fill="#66f0d0" stroke="#26685c" stroke-width="0.9"/>
<rect x="451.19" y="90.93" width="3.5" height="3.5" fill="#66f0d0" stroke="#26685c" stroke-width="0.9"/>
<rect x="459.61" y="97.48" width="3.5" height="3.5" fill="#66f0d0" stroke="#26685c" stroke-width="0.9"/>
<rect x="468.03" y="103.20" width="3.5" height="3.5" fill="#66f0d0" stroke="#26685c" stroke-width="0.9"/>
<rect x="476.44" y="108.52" width="3.5" height="3.5" fill="#66f0d0" stroke="#26685c" stroke-width="0.9"/>
<rect x="484.86" y="113.59" width="3.5" height="3.5" fill="#66f0d0" stroke="#26685c" stroke-width="0.9"/>
<rect x="493.27" y="118.49" width="3.5" height="3.5" fill="#66f0d0" stroke="#26685c" stroke-width="0.9"/>
<rect x="501.69" y="123.28" width="3.5" height="3.5" fill="#66f0d0" stroke="#26685c" stroke-width="0.9"/>
<rect x="510.11" y="128.00" width="3.5" height="3.5" fill="#66f0d0" stroke="#26685c" stroke-width="0.9"/>
<rect x="518.52" y="132.68" width="3.5" height="3.5" fill="#66f0d0" stroke="#26685c" stroke-width="0.9"/>
<rect x="526.94" y="137.35" width="3.5" height="3.5" fill="#66f0d0" stroke="#26685c" stroke-width="0.9"/>
<rect x="535.35" y="142.07" width="3.5" height="3.5" fill="#66f0d0" stroke="#26685c" stroke-width="0.9"/>
<rect x="543.77" y="146.89" width="3.5" height="3.5" fill="#66f0d0" stroke="#26685c" stroke-width="0.9"/>
<rect x="552.19" y="151.85" width="3.5" height="3.5" fill="#66f0d0" stroke="#26685c" stroke-width="0.9"/>
<rect x="560.60" y="157.03" width="3.5" height="3.5" fill="#66f0d0" stroke="#26685c" stroke-width="0.9"/>
<rect x="569.02" y="162.50" width="3.5" height="3.5" fill="#66f0d0" stroke="#26685c" stroke-width="0.9"/>
<rect x="577.43" y="168.34" width="3.5" height="3.5" fill="#66f0d0" stroke="#26685c" stroke-width="0.9"/>
<rect x="585.85" y="174.63" width="3.5" height="3.5" fill="#66f0d0" stroke="#26685c" stroke-width="0.9"/>
<rect x="594.27" y="181.49" width="3.5" height="3.5" fill="#66f0d0" stroke="#26685c" stroke-width="0.9"/>
<rect x="602.68" y="189.01" width="3.5" height="3.5" fill="#66f0d0" stroke="#26685c" stroke-width="0.9"/>
<rect x="611.10" y="197.31" width="3.5" height="3.5" fill="#66f0d0" stroke="#26685c" stroke-width="0.9"/>
<rect x="619.51" y="206.53" width="3.5" height="3.5" fill="#66f0d0" stroke="#26685c" stroke-width="0.9"/>
<rect x="627.93" y="216.79" width="3.5" height="3.5" fill="#66f0d0" stroke="#26685c" stroke-width="0.9"/>
<rect x="436.70" y="234.10" width="2.4" height="2.4" fill="#66f0d0" stroke="#26685c" stroke-width="0.9"/>
<rect x="442.78" y="221.80" width="3.5" height="3.5" fill="#66f0d0" stroke="#26685c" stroke-width="0.9"/>
<rect x="451.19" y="207.88" width="3.5" height="3.5" fill="#66f0d0" stroke="#26685c" stroke-width="0.9"/>
<rect x="459.61" y="194.66" width="3.5" height="3.5" fill="#66f0d0" stroke="#26685c" stroke-width="0.9"/>
<rect x="468.03" y="182.07" width="3.5" height="3.5" fill="#66f0d0" stroke="#26685c" stroke-width="0.9"/>
<rect x="476.44" y="170.07" width="3.5" height="3.5" fill="#66f0d0" stroke="#26685c" stroke-width="0.9"/>
<rect x="484.86" y="158.65" width="3.5" height="3.5" fill="#66f0d0" stroke="#26685c" stroke-width="0.9"/>
<rect x="493.27" y="147.80" width="3.5" height="3.5" fill="#66f0d0" stroke="#26685c" stroke-width="0.9"/>
<rect x="501.69" y="137.50" width="3.5" height="3.5" fill="#66f0d0" stroke="#26685c" stroke-width="0.9"/>
<rect x="510.11" y="127.77" width="3.5" height="3.5" fill="#66f0d0" stroke="#26685c" stroke-width="0.9"/>
<rect x="518.52" y="118.60" width="3.5" height="3.5" fill="#66f0d0" stroke="#26685c" stroke-width="0.9"/>
<rect x="526.94" y="110.01" width="3.5" height="3.5" fill="#66f0d0" stroke="#26685c" stroke-width="0.9"/>
<rect x="535.35" y="102.05" width="3.5" height="3.5" fill="#66f0d0" stroke="#26685c" stroke-width="0.9"/>
<rect x="543.77" y="94.75" width="3.5" height="3.5" fill="#66f0d0" stroke="#26685c" stroke-width="0.9"/>
<rect x="552.19" y="88.18" width="3.5" height="3.5" fill="#66f0d0" stroke="#26685c" stroke-width="0.9"/>
<rect x="560.60" y="82.44" width="3.5" height="3.5" fill="#66f0d0" stroke="#26685c" stroke-width="0.9"/>
<rect x="569.02" y="77.63" width="3.5" height="3.5" fill="#66f0d0" stroke="#26685c" stroke-width="0.9"/>
<rect x="577.43" y="73.89" width="3.5" height="3.5" fill="#66f0d0" stroke="#26685c" stroke-width="0.9"/>
<rect x="585.85" y="71.40" width="3.5" height="3.5" fill="#66f0d0" stroke="#26685c" stroke-width="0.9"/>
<rect x="594.27" y="70.35" width="3.5" height="3.5" fill="#66f0d0" stroke="#26685c" stroke-width="0.9"/>
<rect x="602.68" y="70.99" width="3.5" height="3.5" fill="#66f0d0" stroke="#26685c" stroke-width="0.9"/>
<rect x="611.10" y="73.59" width="3.5" height="3.5" fill="#66f0d0" stroke="#26685c" stroke-width="0.9"/>
<rect x="619.51" y="78.48" width="3.5" height="3.5" fill="#66f0d0" stroke="#26685c" stroke-width="0.9"/>
<rect x="627.93" y="86.01" width="3.5" height="3.5" fill="#66f0d0" stroke="#26685c" stroke-width="0.9"/>
<polyline points="437.90,54.65 444.42,80.46 452.84,89.20 461.25,95.17 469.67,100.24 478.09,104.92 486.50,109.39 494.92,113.75 503.33,118.05 511.75,122.32 520.17,126.58 528.58,130.83 537.00,135.11 545.41,139.41 553.83,143.76 562.25,148.17 570.66,152.67 579.08,157.27 587.49,162.01 595.91,166.91 604.33,172.00 612.74,177.33 621.16,182.93 629.57,188.86 637.99,195.14 646.41,201.85 654.82,209.04 663.24,216.75 669.34,222.72" fill="none" stroke="#d284ef" stroke-width="1.1"/>
<polyline points="437.90,235.30 444.42,223.59 452.84,209.45 461.25,195.92 469.67,182.93 478.09,170.45 486.50,158.49 494.92,147.04 503.33,136.11 511.75,125.69 520.17,115.80 528.58,106.45 537.00,97.64 545.41,89.39 553.83,81.72 562.25,74.65 570.66,68.22 579.08,62.46 587.49,57.43 595.91,53.18 604.33,49.79 612.74,47.34 621.16,45.93 629.57,45.67 637.99,46.70 646.41,49.17 654.82,53.25 663.24,59.12 669.34,64.62" fill="none" stroke="#d284ef" stroke-width="1.1"/>
<circle cx="437.90" cy="54.65" r="1.3" fill="#9a3af4" stroke="#521590" stroke-width="0.8"/>
<circle cx="444.42" cy="80.46" r="1.8" fill="#9a3af4" stroke="#521590" stroke-width="0.8"/>
<circle cx="452.84" cy="89.20" r="1.8" fill="#9a3af4" stroke="#521590" stroke-width="0.8"/>
<circle cx="461.25" cy="95.17" r="1.8" fill="#9a3af4" stroke="#521590" stroke-width="0.8"/>
<circle cx="469.67" cy="100.24" r="1.8" fill="#9a3af4" stroke="#521590" stroke-width="0.8"/>
<circle cx="478.09" cy="104.92" r="1.8" fill="#9a3af4" stroke="#521590" stroke-width="0.8"/>
<circle cx="486.50" cy="109.39" r="1.8" fill="#9a3af4" stroke="#521590" stroke-width="0.8"/>
<circle cx="494.92" cy="113.75" r="1.8" fill="#9a3af4" stroke="#521590" stroke-width="0.8"/>
<circle cx="503.33" cy="118.05" r="1.8" fill="#9a3af4" stroke="#521590" stroke-width="0.8"/>
<circle cx="511.75" cy="122.32" r="1.8" fill="#9a3af4" stroke="#521590" stroke-width="0.8"/>
<circle cx="520.17" cy="126.58" r="1.8" fill="#9a3af4" stroke="#521590" stroke-width="0.8"/>
<circle cx="528.58" cy="130.83" r="1.8" fill="#9a3af4" stroke="#521590" stroke-width="0.8"/>
<circle cx="537.00" cy="135.11" r="1.8" fill="#9a3af4" stroke="#521590" stroke-width="0.8"/>
<circle cx="545.41" cy="139.41" r="1.8" fill="#9a3af4" stroke="#521590" stroke-width="0.8"/>
<circle cx="553.83" cy="143.76" r="1.8" fill="#9a3af4" stroke="#521590" stroke-width="0.8"/>
<circle cx="562.25" cy="148.17" r="1.8" fill="#9a3af4" stroke="#521590" stroke-width="0.8"/>
<circle cx="570.66" cy="152.67" r="1.8" fill="#9a3af4" stroke="#521590" stroke-width="0.8"/>
<circle cx="579.08" cy="157.27" r="1.8" fill="#9a3af4" stroke="#521590" stroke-width="0.8"/>
<circle cx="587.49" cy="162.01" r="1.8" fill="#9a3af4" stroke="#521590" stroke-width="0.8"/>
<circle cx="595.91" cy="166.91" r="1.8" fill="#9a3af4" stroke="#521590" stroke-width="0.8"/>
<circle cx="604.33" cy="172.00" r="1.8" fill="#9a3af4" stroke="#521590" stroke-width="0.8"/>
<circle cx="612.74" cy="177.33" r="1.8" fill="#9a3af4" stroke="#521590" stroke-width="0.8"/>
<circle cx="621.16" cy="182.93" r="1.8" fill="#9a3af4" stroke="#521590" stroke-width="0.8"/>
<circle cx="629.57" cy="188.86" r="1.8" fill="#9a3af4" stroke="#521590" stroke-width="0.8"/>
<circle cx="637.99" cy="195.14" r="1.8" fill="#9a3af4" stroke="#521590" stroke-width="0.8"/>
<circle cx="646.41" cy="201.85" r="1.8" fill="#9a3af4" stroke="#521590" stroke-width="0.8"/>
<circle cx="654.82" cy="209.04" r="1.8" fill="#9a3af4" stroke="#521590" stroke-width="0.8"/>
<circle cx="663.24" cy="216.75" r="1.8" fill="#9a3af4" stroke="#521590" stroke-width="0.8"/>
<circle cx="437.90" cy="235.30" r="1.3" fill="#9a3af4" stroke="#521590" stroke-width="0.8"/>
<circle cx="444.42" cy="223.59" r="1.8" fill="#9a3af4" stroke="#521590" stroke-width="0.8"/>
<circle cx="452.84" cy="209.45" r="1.8" fill="#9a3af4" stroke="#521590" stroke-width="0.8"/>
<circle cx="461.25" cy="195.92" r="1.8" fill="#9a3af4" stroke="#521590" stroke-width="0.8"/>
<circle cx="469.67" cy="182.93" r="1.8" fill="#9a3af4" stroke="#521590" stroke-width="0.8"/>
<circle cx="478.09" cy="170.45" r="1.8" fill="#9a3af4" stroke="#521590" stroke-width="0.8"/>
<circle cx="486.50" cy="158.49" r="1.8" fill="#9a3af4" stroke="#521590" stroke-width="0.8"/>
<circle cx="494.92" cy="147.04" r="1.8" fill="#9a3af4" stroke="#521590" stroke-width="0.8"/>
<circle cx="503.33" cy="136.11" r="1.8" fill="#9a3af4" stroke="#521590" stroke-width="0.8"/>
<circle cx="511.75" cy="125.69" r="1.8" fill="#9a3af4" stroke="#521590" stroke-width="0.8"/>
<circle cx="520.17" cy="115.80" r="1.8" fill="#9a3af4" stroke="#521590" stroke-width="0.8"/>
<circle cx="528.58" cy="106.45" r="1.8" fill="#9a3af4" stroke="#521590" stroke-width="0.8"/>
<circle cx="537.00" cy="97.64" r="1.8" fill="#9a3af4" stroke="#521590" stroke-width="0.8"/>
<circle cx="545.41" cy="89.39" r="1.8" fill="#9a3af4" stroke="#521590" stroke-width="0.8"/>
<circle cx="553.83" cy="81.72" r="1.8" fill="#9a3af4" stroke="#521590" stroke-width="0.8"/>
<circle cx="562.25" cy="74.65" r="1.8" fill="#9a3af4" stroke="#521590" stroke-width="0.8"/>
<circle cx="570.66" cy="68.22" r="1.8" fill="#9a3af4" stroke="#521590" stroke-width="0.8"/>
<circle cx="579.08" cy="62.46" r="1.8" fill="#9a3af4" stroke="#521590" stroke-width="0.8"/>
<circle cx="587.49" cy="57.43" r="1.8" fill="#9a3af4" stroke="#521590" stroke-width="0.8"/>
<circle cx="595.91" cy="53.18" r="1.8" fill="#9a3af4" stroke="#521590" stroke-width="0.8"/>
<circle cx="604.33" cy="49.79" r="1.8" fill="#9a3af4" stroke="#521590" stroke-width="0.8"/>
<circle cx="612.74" cy="47.34" r="1.8" fill="#9a3af4" stroke="#521590" stroke-width="0.8"/>
<circle cx="621.16" cy="45.93" r="1.8" fill="#9a3af4" stroke="#521590" stroke-width="0.8"/>
<circle cx="629.57" cy="45.67" r="1.8" fill="#9a3af4" stroke="#521590" stroke-width="0.8"/>
<circle cx="637.99" cy="46.70" r="1.8" fill="#9a3af4" stroke="#521590" stroke-width="0.8"/>
<circle cx="646.41" cy="49.17" r="1.8" fill="#9a3af4" stroke="#521590" stroke-width="0.8"/>
<circle cx="654.82" cy="53.25" r="1.8" fill="#9a3af4" stroke="#521590" stroke-width="0.8"/>
<circle cx="663.24" cy="59.12" r="1.8" fill="#9a3af4" stroke="#521590" stroke-width="0.8"/>
<rect x="438.00" y="33.30" width="263.00" height="202.00" fill="none" stroke="#000" stroke-width="1.9"/>
<line x1="433.40" y1="235.30" x2="438.00" y2="235.30" stroke="#000" stroke-width="1.6"/>
<line x1="435.30" y1="220.87" x2="438.00" y2="220.87" stroke="#000" stroke-width="1.4"/>
<text transform="translate(431.60,238.80) scale(0.93,1)" text-anchor="end" class="tk">0.3</text>
<line x1="433.40" y1="206.44" x2="438.00" y2="206.44" stroke="#000" stroke-width="1.6"/>
<line x1="435.30" y1="192.01" x2="438.00" y2="192.01" stroke="#000" stroke-width="1.4"/>
<text transform="translate(431.60,209.94) scale(0.93,1)" text-anchor="end" class="tk">0.4</text>
<line x1="433.40" y1="177.59" x2="438.00" y2="177.59" stroke="#000" stroke-width="1.6"/>
<line x1="435.30" y1="163.16" x2="438.00" y2="163.16" stroke="#000" stroke-width="1.4"/>
<text transform="translate(431.60,181.09) scale(0.93,1)" text-anchor="end" class="tk">0.5</text>
<line x1="433.40" y1="148.73" x2="438.00" y2="148.73" stroke="#000" stroke-width="1.6"/>
<line x1="435.30" y1="134.30" x2="438.00" y2="134.30" stroke="#000" stroke-width="1.4"/>
<text transform="translate(431.60,152.23) scale(0.93,1)" text-anchor="end" class="tk">0.6</text>
<line x1="433.40" y1="119.87" x2="438.00" y2="119.87" stroke="#000" stroke-width="1.6"/>
<line x1="435.30" y1="105.44" x2="438.00" y2="105.44" stroke="#000" stroke-width="1.4"/>
<text transform="translate(431.60,123.37) scale(0.93,1)" text-anchor="end" class="tk">0.7</text>
<line x1="433.40" y1="91.01" x2="438.00" y2="91.01" stroke="#000" stroke-width="1.6"/>
<line x1="435.30" y1="76.59" x2="438.00" y2="76.59" stroke="#000" stroke-width="1.4"/>
<text transform="translate(431.60,94.51) scale(0.93,1)" text-anchor="end" class="tk">0.8</text>
<line x1="433.40" y1="62.16" x2="438.00" y2="62.16" stroke="#000" stroke-width="1.6"/>
<line x1="435.30" y1="47.73" x2="438.00" y2="47.73" stroke="#000" stroke-width="1.4"/>
<text transform="translate(431.60,65.66) scale(0.93,1)" text-anchor="end" class="tk">0.9</text>
<line x1="433.40" y1="33.30" x2="438.00" y2="33.30" stroke="#000" stroke-width="1.6"/>
<text transform="translate(431.60,36.80) scale(0.93,1)" text-anchor="end" class="tk">1.0</text>
<line x1="437.90" y1="235.30" x2="437.90" y2="239.80" stroke="#000" stroke-width="1.6"/>
<text transform="translate(437.70,251.90) scale(0.93,1)" text-anchor="middle" class="tk">0</text>
<line x1="543.10" y1="235.30" x2="543.10" y2="239.80" stroke="#000" stroke-width="1.6"/>
<text transform="translate(542.90,251.90) scale(0.93,1)" text-anchor="middle" class="tk">1000</text>
<line x1="648.30" y1="235.30" x2="648.30" y2="239.80" stroke="#000" stroke-width="1.6"/>
<text transform="translate(648.10,251.90) scale(0.93,1)" text-anchor="middle" class="tk">2000</text>
<line x1="490.50" y1="235.30" x2="490.50" y2="238.00" stroke="#000" stroke-width="1.4"/>
<line x1="595.70" y1="235.30" x2="595.70" y2="238.00" stroke="#000" stroke-width="1.4"/>
<line x1="701.00" y1="235.30" x2="705.60" y2="235.30" stroke="#000" stroke-width="1.6"/>
<text transform="translate(706.40,238.80) scale(0.93,1)" class="tk">0</text>
<line x1="701.00" y1="167.97" x2="705.60" y2="167.97" stroke="#000" stroke-width="1.6"/>
<text transform="translate(706.40,171.47) scale(0.93,1)" class="tk">300</text>
<line x1="701.00" y1="100.63" x2="705.60" y2="100.63" stroke="#000" stroke-width="1.6"/>
<text transform="translate(706.40,104.13) scale(0.93,1)" class="tk">600</text>
<line x1="701.00" y1="33.30" x2="705.60" y2="33.30" stroke="#000" stroke-width="1.6"/>
<text transform="translate(706.40,36.80) scale(0.93,1)" class="tk">900</text>
<line x1="701.00" y1="201.63" x2="703.70" y2="201.63" stroke="#000" stroke-width="1.4"/>
<line x1="701.00" y1="134.30" x2="703.70" y2="134.30" stroke="#000" stroke-width="1.4"/>
<line x1="701.00" y1="66.97" x2="703.70" y2="66.97" stroke="#000" stroke-width="1.4"/>
<rect x="580.40" y="109.50" width="110.10" height="32.00" fill="#000"/>
<rect x="577.60" y="106.70" width="110.10" height="32.00" fill="#fff" stroke="#3a3a3a" stroke-width="1"/>
<line x1="584.50" y1="114.70" x2="612.90" y2="114.70" stroke="#74eedb" stroke-width="1.1"/>
<rect x="597.60" y="112.70" width="4" height="4" fill="#66f0d0" stroke="#26685c" stroke-width="0.9"/>
<line x1="584.50" y1="130.70" x2="612.90" y2="130.70" stroke="#d284ef" stroke-width="1.1"/>
<circle cx="599.60" cy="130.70" r="1.9" fill="#9a3af4" stroke="#521590" stroke-width="0.8"/>
<text x="613.80" y="118.90" class="lg" fill="#1b8c6d">Spray MEA</text>
<text x="613.80" y="134.90" class="lg" fill="#a133ee">Decal MEA</text>
<text x="1" y="18.7" class="pl">a)</text>
<text x="403" y="17" class="pl">b)</text>
<g transform="translate(89.80,275.80) scale(0.975,1)"><text x="0" y="0" class="ax">Current density / mA cm</text><text x="183.2" y="-8.8" class="sup">-2</text></g>
<g transform="translate(474.90,275.80) scale(0.975,1)"><text x="0" y="0" class="ax">Current density / mA cm</text><text x="183.2" y="-8.8" class="sup">-2</text></g>
<text transform="translate(16.2,185.5) rotate(-90)" class="ax" style="letter-spacing:0.2px">Voltage / V</text>
<text transform="translate(401.7,185.5) rotate(-90)" class="ax" style="letter-spacing:0.2px">Voltage / V</text>
<g transform="translate(359.3,52.3) rotate(90)"><text x="0" y="0" class="ax" style="letter-spacing:0.05px">Power density / mW cm</text><text x="179.5" y="-9.2" class="sup">-2</text></g>
<g transform="translate(737.8,52.3) rotate(90)"><text x="0" y="0" class="ax" style="letter-spacing:0.05px">Power density / mW cm</text><text x="179.5" y="-9.2" class="sup">-2</text></g>
</svg>
</body></html>
